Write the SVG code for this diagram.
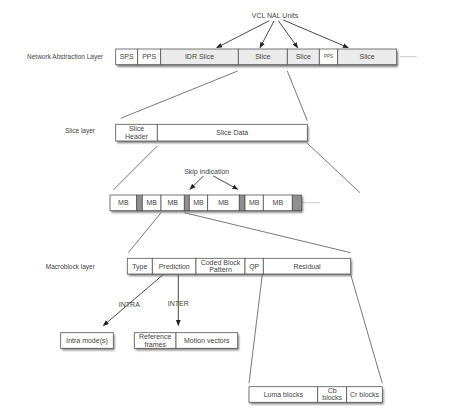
<svg xmlns="http://www.w3.org/2000/svg" width="474" height="417" viewBox="0 0 474 417">
<defs>
<filter id="sh" x="-10%" y="-30%" width="120%" height="180%">
<feGaussianBlur stdDeviation="1.1"/>
</filter>
<marker id="ah" viewBox="0 0 10 10" refX="9" refY="5" markerWidth="6" markerHeight="6" orient="auto" markerUnits="userSpaceOnUse">
<path d="M0,1 L10,5 L0,9 z" fill="#222"/>
</marker>
</defs>
<style>
text{font-family:"Liberation Sans",Arial,sans-serif;font-size:7px;fill:#444;text-anchor:middle;dominant-baseline:central}
.lbl{font-size:6.5px}
.cell{stroke:#555;stroke-width:0.8}
.w{fill:#fff}
.g{fill:#ebebeb}
.d{fill:#8f8f8f}
.shadow{fill:#555;opacity:0.75;filter:url(#sh)}
.ln{stroke:#555;stroke-width:0.8;fill:none}
.ar{stroke:#333;stroke-width:0.9;fill:none;marker-end:url(#ah)}
.trail{stroke:#bbb;stroke-width:0.8}
</style>
<rect width="474" height="417" fill="#fff"/>

<g id="connectors">
<line class="ar" x1="269.3" y1="20.7" x2="216.7" y2="47.7"/>
<line class="ar" x1="274" y1="21" x2="260" y2="47.7"/>
<line class="ar" x1="278.3" y1="20.7" x2="297.7" y2="47.7"/>
<line class="ar" x1="283.3" y1="20" x2="348.3" y2="47.7"/>
<line class="ln" x1="237.7" y1="71" x2="120.7" y2="118.3"/>
<line class="ln" x1="287.3" y1="71" x2="307.3" y2="120.7"/>
<line class="ln" x1="157.3" y1="146" x2="113.3" y2="190"/>
<line class="ln" x1="307.3" y1="143.3" x2="360" y2="192.7"/>
<line class="ar" x1="203.3" y1="176" x2="190" y2="189.3"/>
<line class="ar" x1="213.3" y1="176" x2="237.7" y2="189.3"/>
<line class="ln" x1="161" y1="212.7" x2="128.3" y2="252.7"/>
<line class="ln" x1="184.3" y1="212.7" x2="350.7" y2="252.7"/>
<line class="ar" x1="163.3" y1="274.5" x2="103.3" y2="325.7"/>
<line class="ar" x1="178.3" y1="274.5" x2="178.3" y2="325.5"/>
<line class="ln" x1="262.3" y1="274.5" x2="249" y2="383.3"/>
<line class="ln" x1="350.7" y1="274.5" x2="382.3" y2="383.3"/>
<line class="trail" x1="400" y1="56.7" x2="416.7" y2="56.7"/>
<line class="trail" x1="301.7" y1="202.7" x2="320" y2="202.7"/>
</g>

<g id="labels">
<text x="275" y="15">VCL NAL Units</text>
<text x="65" y="56.7" class="lbl">Network Abstraction Layer</text>
<text x="80" y="130.7" class="lbl">Slice layer</text>
<text x="206.7" y="171">Skip indication</text>
<text x="70.3" y="266" class="lbl">Macroblock layer</text>
<text x="129.3" y="304">INTRA</text>
<text x="178.3" y="303.3">INTER</text>
</g>

<g id="nal">
<rect class="shadow" x="117" y="51" width="281" height="16"/>
<rect class="cell w" x="115.7" y="49" width="22" height="15.7"/>
<rect class="cell w" x="137.7" y="49" width="23" height="15.7"/>
<rect class="cell g" x="160.7" y="49" width="77.6" height="15.7"/>
<rect class="cell g" x="238.3" y="49" width="49" height="15.7"/>
<rect class="cell g" x="287.3" y="49" width="32" height="15.7"/>
<rect class="cell w" x="319.3" y="49" width="18.4" height="15.7"/>
<rect class="cell g" x="337.7" y="49" width="59" height="15.7"/>
<text x="126.7" y="56.8">SPS</text>
<text x="149.2" y="56.8">PPS</text>
<text x="199.5" y="56.8">IDR Slice</text>
<text x="262.8" y="56.8">Slice</text>
<text x="303.3" y="56.8">Slice</text>
<text x="328.5" y="56.8" style="font-size:4.5px">PPS</text>
<text x="367.2" y="56.8">Slice</text>
</g>

<g id="slice-layer">
<rect class="shadow" x="117" y="126.3" width="191.6" height="16.7"/>
<rect class="cell w" x="115.7" y="124.3" width="41.6" height="16.7"/>
<rect class="cell w" x="157.3" y="124.3" width="150" height="16.7"/>
<text x="136.5" y="128.8">Slice</text>
<text x="136.5" y="136.3">Header</text>
<text x="232.3" y="132.6">Slice Data</text>
</g>

<g id="mb-row">
<rect class="shadow" x="111.3" y="197" width="191.7" height="15.7"/>
<rect class="cell w" x="110" y="195" width="26.7" height="15.7"/>
<rect class="cell d" x="136.7" y="195" width="5.6" height="15.7"/>
<rect class="cell w" x="142.3" y="195" width="18.7" height="15.7"/>
<rect class="cell w" x="161" y="195" width="23.3" height="15.7"/>
<rect class="cell d" x="184.3" y="195" width="5" height="15.7"/>
<rect class="cell w" x="189.3" y="195" width="18.4" height="15.7"/>
<rect class="cell w" x="207.7" y="195" width="31.6" height="15.7"/>
<rect class="cell d" x="239.3" y="195" width="5.7" height="15.7"/>
<rect class="cell w" x="245" y="195" width="18.3" height="15.7"/>
<rect class="cell w" x="263.3" y="195" width="29" height="15.7"/>
<rect class="cell d" x="292.3" y="195" width="9.4" height="15.7"/>
<text x="123.3" y="202.8">MB</text>
<text x="151.7" y="202.8">MB</text>
<text x="172.7" y="202.8">MB</text>
<text x="198.5" y="202.8">MB</text>
<text x="223.5" y="202.8">MB</text>
<text x="254.2" y="202.8">MB</text>
<text x="277.8" y="202.8">MB</text>
</g>

<g id="macroblock-layer">
<rect class="shadow" x="128.6" y="260.3" width="223.4" height="15.7"/>
<rect class="cell w" x="127.3" y="258.3" width="25" height="15.7"/>
<rect class="cell w" x="152.3" y="258.3" width="43.7" height="15.7"/>
<rect class="cell w" x="196" y="258.3" width="49" height="15.7"/>
<rect class="cell w" x="245" y="258.3" width="18.3" height="15.7"/>
<rect class="cell w" x="263.3" y="258.3" width="87.4" height="15.7"/>
<text x="139.8" y="266.2">Type</text>
<text x="174.2" y="266.2">Prediction</text>
<text x="220.5" y="262.6">Coded Block</text>
<text x="220.5" y="269.8">Pattern</text>
<text x="254.2" y="266.2">QP</text>
<text x="307" y="266.2">Residual</text>
</g>

<g id="intra-modes">
<rect class="shadow" x="62" y="334.7" width="52.6" height="15.6"/>
<rect class="cell w" x="60.7" y="332.7" width="52.6" height="15.6"/>
<text x="87" y="340.5">Intra mode(s)</text>
</g>

<g id="inter-params">
<rect class="shadow" x="135.6" y="334.7" width="103.4" height="15.6"/>
<rect class="cell w" x="134.3" y="332.7" width="41.7" height="15.6"/>
<rect class="cell w" x="176" y="332.7" width="61.7" height="15.6"/>
<text x="155.2" y="336.8">Reference</text>
<text x="155.2" y="344.2">frames</text>
<text x="206.8" y="340.5">Motion vectors</text>
</g>

<g id="residual-blocks">
<rect class="shadow" x="250.3" y="388.7" width="133.3" height="15.6"/>
<rect class="cell w" x="249" y="386.7" width="68.7" height="15.6"/>
<rect class="cell w" x="317.7" y="386.7" width="29" height="15.6"/>
<rect class="cell w" x="346.7" y="386.7" width="35.6" height="15.6"/>
<text x="283.3" y="394.5">Luma blocks</text>
<text x="332.2" y="390.6">Cb</text>
<text x="332.2" y="397.8">blocks</text>
<text x="364.5" y="394.5">Cr blocks</text>
</g>
</svg>
